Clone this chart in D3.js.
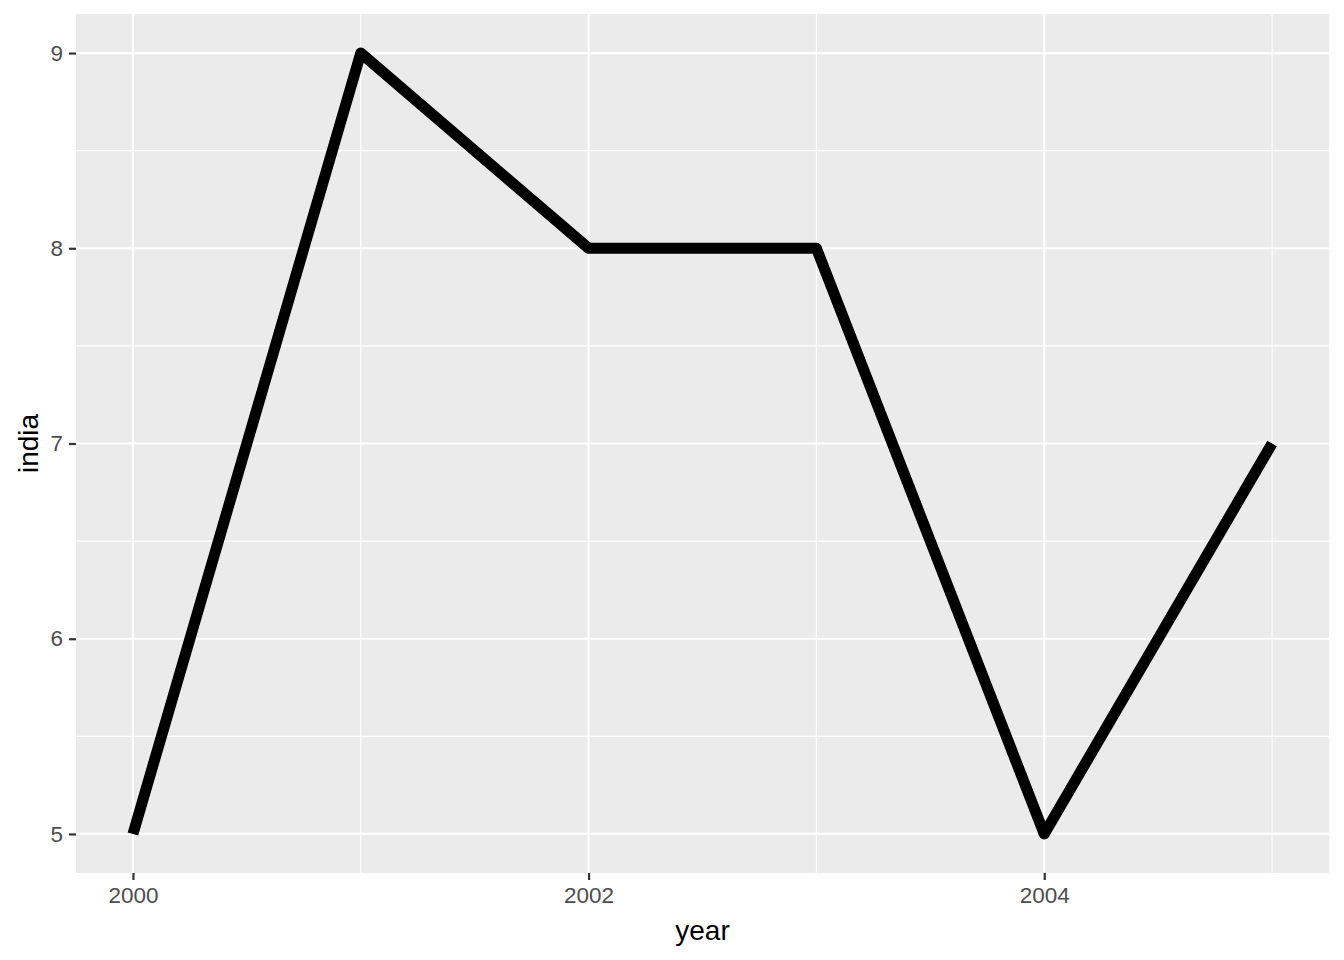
<!DOCTYPE html>
<html>
<head>
<meta charset="utf-8">
<script src="https://cdn.jsdelivr.net/npm/d3@7"></script>
<style>
  body { margin: 0; background: #fff; }
  text { font-family: "Liberation Sans", Arial, sans-serif; }
</style>
</head>
<body>
<svg width="1344" height="960"></svg>
<script>
var years = [2000, 2001, 2002, 2003, 2004, 2005];
var india = [5, 9, 8, 8, 5, 7];
var xTicks = [2000, 2002, 2004];
var xMinor = [2001, 2003, 2005];
var yTicks = [5, 6, 7, 8, 9];
var yMinor = [5.5, 6.5, 7.5, 8.5];

var svg = d3.select("svg"),
    margin = {top: 14, right: 15, bottom: 87, left: 76},
    width = +svg.attr("width") - margin.left - margin.right,
    height = +svg.attr("height") - margin.top - margin.bottom;

// ggplot default 5% expansion
var xr = d3.extent(years), xpad = (xr[1] - xr[0]) * 0.05;
var yr = d3.extent(india), ypad = (yr[1] - yr[0]) * 0.05;

var x = d3.scaleLinear().domain([xr[0] - xpad, xr[1] + xpad]).range([0, width]);
var y = d3.scaleLinear().domain([yr[0] - ypad, yr[1] + ypad]).range([height, 0]);

var g = svg.append("g")
    .attr("transform", "translate(" + margin.left + "," + margin.top + ")");

g.append("rect")
    .attr("width", width)
    .attr("height", height)
    .attr("fill", "#ebebeb");

// minor grid
g.selectAll(".xminor").data(xMinor).enter().append("line")
    .attr("x1", function(d) { return x(d); })
    .attr("x2", function(d) { return x(d); })
    .attr("y1", 0).attr("y2", height)
    .attr("stroke", "#fff").attr("stroke-width", 1.1);
g.selectAll(".yminor").data(yMinor).enter().append("line")
    .attr("y1", function(d) { return y(d); })
    .attr("y2", function(d) { return y(d); })
    .attr("x1", 0).attr("x2", width)
    .attr("stroke", "#fff").attr("stroke-width", 1.1);

// major grid
g.selectAll(".xmajor").data(xTicks).enter().append("line")
    .attr("x1", function(d) { return x(d); })
    .attr("x2", function(d) { return x(d); })
    .attr("y1", 0).attr("y2", height)
    .attr("stroke", "#fff").attr("stroke-width", 2.2);
g.selectAll(".ymajor").data(yTicks).enter().append("line")
    .attr("y1", function(d) { return y(d); })
    .attr("y2", function(d) { return y(d); })
    .attr("x1", 0).attr("x2", width)
    .attr("stroke", "#fff").attr("stroke-width", 2.2);

var line = d3.line()
    .x(function(d, i) { return x(years[i]); })
    .y(function(d) { return y(d); });

g.append("path")
    .datum(india)
    .attr("d", line)
    .attr("fill", "none")
    .attr("stroke", "#000")
    .attr("stroke-width", 11)
    .attr("stroke-linejoin", "round")
    .attr("stroke-linecap", "butt");

var xAxis = d3.axisBottom(x).tickValues(xTicks).tickFormat(d3.format("d"))
    .tickSize(7).tickPadding(7);
var yAxis = d3.axisLeft(y).tickValues(yTicks).tickFormat(d3.format("d"))
    .tickSize(7).tickPadding(6);

var gx = g.append("g")
    .attr("transform", "translate(0," + height + ")")
    .call(xAxis);
var gy = g.append("g").call(yAxis);

[gx, gy].forEach(function(a) {
  a.select(".domain").remove();
  a.selectAll(".tick line").attr("stroke", "#333").attr("stroke-width", 2.2);
  a.selectAll(".tick text").attr("fill", "#4d4d4d").style("font-size", "22.5px");
});

svg.append("text")
    .attr("x", margin.left + width / 2)
    .attr("y", 940)
    .attr("text-anchor", "middle")
    .attr("fill", "#000")
    .style("font-size", "28px")
    .text("year");

svg.append("text")
    .attr("transform", "translate(38," + (margin.top + height / 2) + ") rotate(-90)")
    .attr("text-anchor", "middle")
    .attr("fill", "#000")
    .style("font-size", "28px")
    .text("india");
</script>
</body>
</html>
